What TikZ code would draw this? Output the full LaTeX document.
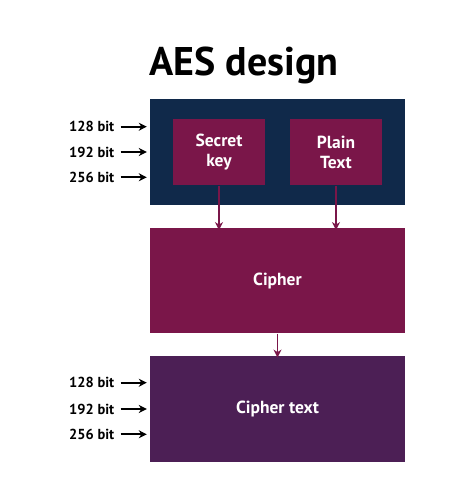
\documentclass[tikz,border=0pt]{standalone}
\usepackage{fontspec}
\setmainfont{PT Sans}
\usetikzlibrary{arrows.meta}
\definecolor{navy}{HTML}{10294A}
\definecolor{wine}{HTML}{7A1649}
\definecolor{plum}{HTML}{4C1F55}
\begin{document}
\begin{tikzpicture}[x=1pt,y=-1pt,
  box/.style={draw=none,inner sep=0pt,align=center,text=white,font=\bfseries\fontsize{17.5}{20}\selectfont},
  lbl/.style={inner sep=0pt,anchor=east,font=\bfseries\fontsize{14.5}{15}\selectfont},
  inarrow/.style={-{Stealth[length=8pt,width=8pt,inset=2.5pt]},line width=1.8pt,black},
  flow/.style={-{Stealth[length=8pt,width=8pt,inset=2.5pt]},line width=1.6pt,wine}]
\useasboundingbox[fill=white] (0,0) rectangle (474,500);
\node[font=\bfseries\fontsize{40}{42}\selectfont,inner sep=0pt] (title) at (244,65) {AES design};
\node[box,fill=navy,minimum width=255pt,minimum height=106pt] (top) at (277.5,152) {};
\node[box,fill=wine,minimum width=92pt,minimum height=66pt] (key) at (219,152.3) {Secret\\key};
\node[box,fill=wine,minimum width=92pt,minimum height=66pt] (plain) at (336,152.3) {Plain\\Text};
\node[box,fill=wine,minimum width=255pt,minimum height=105pt] (cipher) at (277.5,280.8) {Cipher};
\node[box,fill=plum,minimum width=255pt,minimum height=106pt] (ctext) at (277.5,408.8) {Cipher text};
\foreach \n/\y/\t in {a/126.7/128 bit,b/152/192 bit,c/177.3/256 bit}{
  \node[lbl] (t\n) at (114.5,\y) {\t};
  \coordinate (e\n) at (top.west |- 0,\y);
  \draw[inarrow] ([xshift=6pt]t\n.east) -- ([xshift=-3pt]e\n);
}
\foreach \n/\y/\t in {d/382.7/128 bit,e/409/192 bit,f/434.3/256 bit}{
  \node[lbl] (t\n) at (114.5,\y) {\t};
  \coordinate (e\n) at (ctext.west |- 0,\y);
  \draw[inarrow] ([xshift=6pt]t\n.east) -- ([xshift=-3pt]e\n);
}
\draw[flow] (key.south) -- ([yshift=-2pt]key.south |- cipher.north);
\draw[flow] (plain.south) -- ([yshift=-2pt]plain.south |- cipher.north);
\draw[flow] (cipher.south) -- ([yshift=-2pt]ctext.north);
\end{tikzpicture}
\end{document}
